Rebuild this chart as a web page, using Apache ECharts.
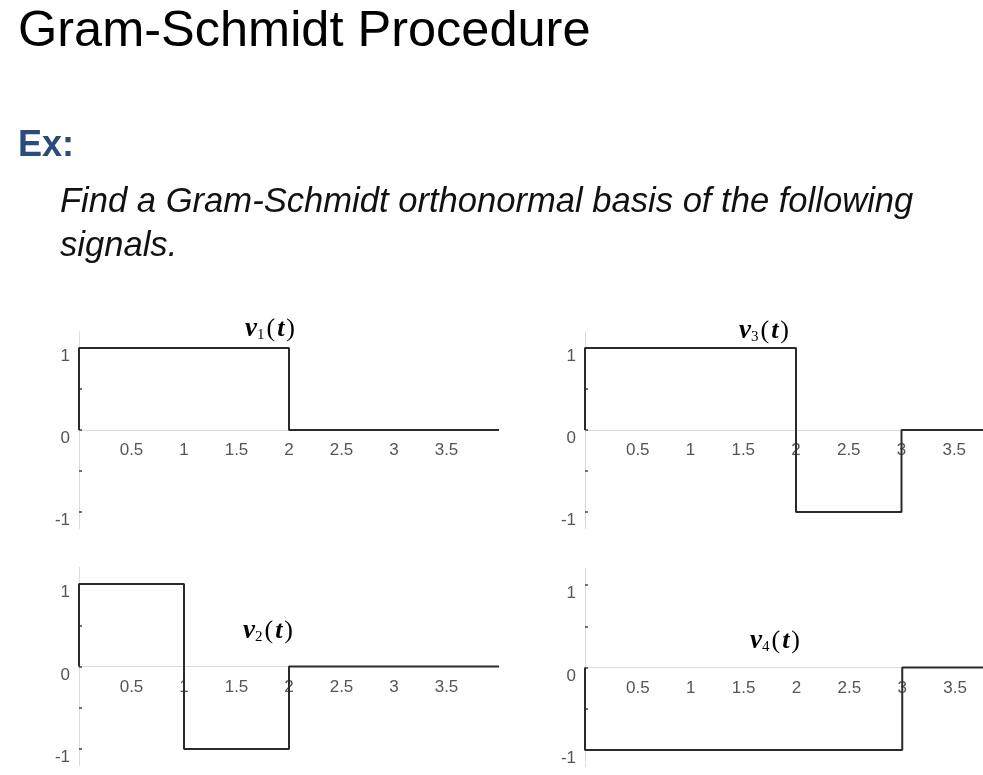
<!DOCTYPE html>
<html>
<head>
<meta charset="utf-8">
<script src="https://cdn.jsdelivr.net/npm/echarts@6/dist/echarts.min.js"></script>
<style>
html,body{margin:0;padding:0;background:#fff;}
#chart{width:983px;height:775px;}
</style>
</head>
<body>
<div id="chart"></div>
<script>
// ---- data ----
const breaks = [0, 1, 2, 3, 4];
const v1 = [1, 1, 0, 0];
const v2 = [1, -1, 0, 0];
const v3 = [1, 1, -1, 0];
const v4 = [-1, -1, -1, 0];
const xTickLabels = [0.5, 1, 1.5, 2, 2.5, 3, 3.5];
const yTickLabels = [-1, 0, 1];
const yTicks = [-1, -0.5, 0, 0.5, 1];
const plotNames = ['1', '3', '2', '4'];

function stepPoints(vals) {
  const pts = [[breaks[0], 0]];
  vals.forEach(function (v, i) {
    pts.push([breaks[i], v]);
    pts.push([breaks[i + 1], v]);
  });
  return pts;
}

const signals = [v1, v3, v2, v4];
const grids = [
  {left: 79, top: 331.6, width: 420, height: 196.8},
  {left: 585, top: 331.6, width: 422, height: 196.8},
  {left: 79, top: 567.5, width: 420, height: 198},
  {left: 585, top: 568.5, width: 423, height: 198}
];
const labelPos = [[270, 329], [764, 331], [268, 631], [775, 641]];

const axisFont = {fontFamily: 'Liberation Sans', fontSize: 17, color: '#555'};

const option = {
  backgroundColor: '#fff',
  animation: false,
  grid: grids.map(function (g) { return Object.assign({outerBoundsMode: 'none', containLabel: false}, g); }),
  xAxis: grids.map(function (g, i) {
    return {
      type: 'value', gridIndex: i, min: 0, max: 4,
      position: 'bottom',
      offset: -g.height / 2,   // y range is symmetric: put the axis on y = 0
      axisLine: {show: true, onZero: false, lineStyle: {color: '#dcdcdc', width: 1}},
      axisTick: {show: false},
      splitLine: {show: false},
      axisLabel: Object.assign({customValues: xTickLabels, margin: 12}, axisFont)
    };
  }),
  yAxis: grids.map(function (g, i) {
    return {
      type: 'value', gridIndex: i, min: -1.2, max: 1.2,
      axisLine: {show: true, onZero: false, lineStyle: {color: '#dcdcdc', width: 1}},
      axisTick: {show: true, inside: true, length: 3, customValues: yTicks, lineStyle: {color: '#444', width: 1.5}},
      splitLine: {show: false},
      axisLabel: Object.assign({customValues: yTickLabels, margin: 9, verticalAlign: 'top'}, axisFont)
    };
  }),
  series: signals.map(function (s, i) {
    return {
      type: 'line', xAxisIndex: i, yAxisIndex: i,
      data: stepPoints(s), symbol: 'none', z: 5,
      lineStyle: {color: '#2a2a2a', width: 2}
    };
  }),
  graphic: [
    {type: 'text', left: 18, top: 7, style: {text: 'Gram-Schmidt Procedure', font: '50.5px "Liberation Sans"', fill: '#000'}},
    {type: 'text', left: 18, top: 128, style: {text: 'Ex:', font: 'bold 36px "Liberation Sans"', fill: '#2c4a7c'}},
    {type: 'text', left: 60, top: 185, style: {text: 'Find a Gram-Schmidt orthonormal basis of the following', font: 'italic 34.6px "Liberation Sans"', fill: '#111'}},
    {type: 'text', left: 60, top: 229, style: {text: 'signals.', font: 'italic 34.6px "Liberation Sans"', fill: '#111'}}
  ].concat(plotNames.map(function (n, i) {
    return {
      type: 'text', x: labelPos[i][0], y: labelPos[i][1], z: 10,
      style: {
        text: '{v|v}{s|' + n + '}{p|(}{t|t}{p|)}',
        align: 'center', verticalAlign: 'middle',
        rich: {
          v: {fontFamily: 'Liberation Serif', fontStyle: 'italic', fontWeight: 'bold', fontSize: 27, fill: '#000'},
          s: {fontFamily: 'Liberation Serif', fontSize: 15, fill: '#000', padding: [13, 2, 0, 0]},
          p: {fontFamily: 'Liberation Serif', fontSize: 26, fill: '#000'},
          t: {fontFamily: 'Liberation Serif', fontStyle: 'italic', fontWeight: 'bold', fontSize: 26, fill: '#000', padding: [0, 2, 0, 2]}
        }
      }
    };
  }))
};

const chart = echarts.init(document.getElementById('chart'), null, {renderer: 'canvas'});
chart.setOption(option);
</script>
</body>
</html>
